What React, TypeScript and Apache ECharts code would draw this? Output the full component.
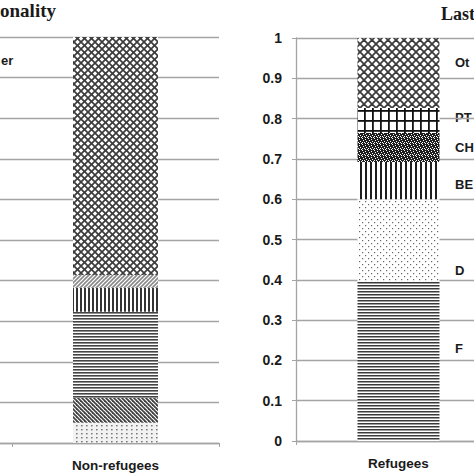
import React, { useEffect, useRef } from "react";
import * as echarts from "echarts";

// ---- data ----
const leftCategories = ["Refugees", "Non-refugees"];
const leftVisibleCategories = ["Non-refugees"];
const rightCategories = ["Refugees"];
const leftGroupNames = ["Group 1", "Group 2", "Group 3", "Group 4", "Group 5", "Other"];
const leftNonRefugeeShares = [0.05, 0.061, 0.212, 0.059, 0.032, 0.586];
const rightGroupNames = ["FR", "DE", "BE", "CH", "PT", "Other"];
const rightRefugeeShares = [0.395, 0.205, 0.092, 0.072, 0.062, 0.174];
// visible (cropped) texts of the reference
const leftTitle = "onality";
const rightTitle = "Last";
const leftEdgeLabel = "er";
const rightLabelTexts = ["Ot", "PT", "CH", "BE", "D", "F"];

const OFFSET = 220; // canvas is shifted left so panels extend beyond the view
const W = 474 + OFFSET + 60;

type Draw = (g: CanvasRenderingContext2D, w: number, h: number) => void;
function tile(w: number, h: number, draw: Draw): any {
  const c = document.createElement("canvas");
  c.width = w;
  c.height = h;
  const g = c.getContext("2d")!;
  g.fillStyle = "#ffffff";
  g.fillRect(0, 0, w, h);
  draw(g, w, h);
  return { image: c, repeat: "repeat", imageWidth: w, imageHeight: h };
}

function diagLines(g: CanvasRenderingContext2D, w: number, h: number, dir: 1 | -1, lw: number, col: string) {
  g.strokeStyle = col;
  g.lineWidth = lw;
  for (let k = -1; k <= 1; k++) {
    g.beginPath();
    if (dir === 1) {
      g.moveTo(k * w - 1, -1);
      g.lineTo(k * w + w + 1, h + 1);
    } else {
      g.moveTo(k * w + w + 1, -1);
      g.lineTo(k * w - 1, h + 1);
    }
    g.stroke();
  }
}

function makePatterns() {
  const hLines = tile(4, 3, (g) => {
    g.fillStyle = "#3a3a3a";
    g.fillRect(0, 0, 4, 1.5);
  });
  const hLinesLeft = tile(4, 3, (g) => {
    g.fillStyle = "#444";
    g.fillRect(0, 0, 4, 1.6);
  });
  const sparseDots = tile(6, 6, (g) => {
    g.fillStyle = "#666";
    g.fillRect(0, 0, 1.2, 1.2);
    g.fillRect(3, 3, 1.2, 1.2);
  });
  const vLines = tile(5, 4, (g) => {
    g.fillStyle = "#1e1e1e";
    g.fillRect(0, 0, 2, 4);
  });
  const vLinesLeft = tile(4, 4, (g) => {
    g.fillStyle = "#333";
    g.fillRect(0, 0, 2, 4);
  });
  const denseDots = tile(6, 6, (g) => {
    g.fillStyle = "#1e1e1e";
    g.fillRect(0, 0, 6, 6);
    g.fillStyle = "#fff";
    const specks = [
      [0, 0], [3, 1], [1, 2], [4, 3], [2, 4], [5, 5], [0, 4], [3, 5],
    ];
    specks.forEach(([x, y]) => g.fillRect(x, y, 1, 1));
  });
  const grid = tile(8, 10, (g) => {
    g.fillStyle = "#111";
    g.fillRect(0, 0, 1.8, 10);
    g.fillRect(0, 0, 8, 1.8);
  });
  const cross = tile(8, 8, (g, w, h) => {
    diagLines(g, w, h, 1, 1.8, "#3c3c3c");
    diagLines(g, w, h, -1, 1.8, "#3c3c3c");
  });
  const crossLeft = tile(7, 7, (g, w, h) => {
    diagLines(g, w, h, 1, 1.7, "#3c3c3c");
    diagLines(g, w, h, -1, 1.7, "#3c3c3c");
  });
  const dotGrid = tile(5, 4, (g) => {
    g.fillStyle = "#f2f2f2";
    g.fillRect(0, 0, 5, 4);
    g.fillStyle = "#777";
    g.fillRect(1, 1, 1.6, 1.4);
  });
  const backDiag = tile(4, 4, (g, w, h) => diagLines(g, w, h, 1, 1.8, "#444"));
  const fwdDiagLight = tile(4, 4, (g, w, h) => diagLines(g, w, h, -1, 1.6, "#8a8a8a"));
  return {
    left: [dotGrid, backDiag, hLinesLeft, vLinesLeft, fwdDiagLight, crossLeft],
    right: [hLines, sparseDots, vLines, denseDots, grid, cross],
  };
}

const FONT = "'Liberation Sans', Arial, sans-serif";
const SERIF = "'Liberation Serif', 'Times New Roman', serif";
const GRID_COLOR = "#a4a4a4";
const TEXT_COLOR = "#1a1a1a";

export default function App() {
  const ref = useRef<HTMLDivElement>(null);
  useEffect(() => {
    if (!ref.current) return;
    const chart = echarts.init(ref.current, null, { renderer: "svg" });
    const pats = makePatterns();

    const leftSeries = leftGroupNames.map((name, i) => ({
      name,
      type: "bar",
      xAxisIndex: 0,
      yAxisIndex: 0,
      stack: "left",
      barWidth: 85,
      itemStyle: { color: pats.left[i] },
      data: ["-", leftNonRefugeeShares[i]],
    }));
    const rightSeries = rightGroupNames.map((name, i) => ({
      name,
      type: "bar",
      xAxisIndex: 1,
      yAxisIndex: 1,
      stack: "right",
      barWidth: 82,
      itemStyle: { color: pats.right[i] },
      data: [rightRefugeeShares[i]],
    }));

    const rightLabelYs = [62, 117, 147, 184, 270, 348];

    const labelStyle = (text: string) => ({
      text,
      font: `bold 13px ${FONT}`,
      fill: TEXT_COLOR,
      backgroundColor: "#fff",
      padding: [2, 4],
      verticalAlign: "middle",
    });

    const graphic: any[] = [
      {
        type: "text",
        x: OFFSET + 56,
        y: 10,
        style: { text: leftTitle, font: `bold 19px ${SERIF}`, fill: TEXT_COLOR, align: "right", verticalAlign: "middle" },
      },
      {
        type: "text",
        x: OFFSET + 441,
        y: 14,
        style: { text: rightTitle, font: `bold 18px ${SERIF}`, fill: TEXT_COLOR, align: "left", verticalAlign: "middle" },
      },
      { type: "rect", shape: { x: OFFSET - 10, y: 52, width: 20, height: 16 }, style: { fill: "#fff" } },
      {
        type: "text",
        x: OFFSET + 1,
        y: 60,
        style: { text: leftEdgeLabel, font: `bold 13px ${FONT}`, fill: TEXT_COLOR, align: "left", verticalAlign: "middle" },
      },
      { type: "rect", shape: { x: OFFSET - 10, y: 110, width: 23, height: 14 }, style: { fill: "#fff" } },
      { type: "rect", shape: { x: OFFSET - 10, y: 150, width: 26, height: 14 }, style: { fill: "#fff" } },
      ...rightLabelTexts.map((t, i) => ({
        type: "text",
        x: OFFSET + 451,
        y: rightLabelYs[i],
        style: { ...labelStyle(t), align: "left" },
      })),
    ];

    chart.setOption({
      animation: false,
      backgroundColor: "#ffffff",
      grid: [
        { left: OFFSET - 195, top: 37, width: 414, height: 406, containLabel: false },
        { left: OFFSET + 296, top: 38, width: 205, height: 403, containLabel: false },
      ],
      xAxis: [
        {
          type: "category",
          gridIndex: 0,
          data: leftCategories,
          axisLine: { lineStyle: { color: GRID_COLOR, width: 1.3 } },
          axisTick: { show: true, length: 4, lineStyle: { color: GRID_COLOR } },
          axisLabel: {
            color: TEXT_COLOR,
            fontFamily: FONT,
            fontWeight: "bold",
            fontSize: 13.5,
            margin: 15,
            formatter: (v: string) => (leftVisibleCategories.includes(v) ? v : ""),
          },
        },
        {
          type: "category",
          gridIndex: 1,
          data: rightCategories,
          axisLine: { lineStyle: { color: GRID_COLOR, width: 1.3 } },
          axisTick: { show: true, length: 4, lineStyle: { color: GRID_COLOR } },
          axisLabel: { color: TEXT_COLOR, fontFamily: FONT, fontWeight: "bold", fontSize: 13.5, margin: 15 },
        },
      ],
      yAxis: [
        {
          type: "value",
          gridIndex: 0,
          min: 0,
          max: 1,
          interval: 0.1,
          axisLine: { show: false },
          axisTick: { show: false },
          axisLabel: { show: false },
          splitLine: { show: true, lineStyle: { color: GRID_COLOR, width: 1.3 } },
        },
        {
          type: "value",
          gridIndex: 1,
          min: 0,
          max: 1,
          interval: 0.1,
          axisLine: { show: true, lineStyle: { color: GRID_COLOR, width: 1.3 } },
          axisTick: { show: true, length: 4, lineStyle: { color: GRID_COLOR } },
          axisLabel: {
            color: TEXT_COLOR,
            fontFamily: FONT,
            fontWeight: "bold",
            fontSize: 14,
            margin: 14,
            formatter: (v: number) => String(Math.round(v * 10) / 10),
          },
          splitLine: { show: true, lineStyle: { color: GRID_COLOR, width: 1.3 } },
        },
      ],
      series: [...leftSeries, ...rightSeries],
      graphic,
    });
    return () => chart.dispose();
  }, []);

  return (
    <div style={{ position: "absolute", left: 0, top: 0, width: 474, height: 474, overflow: "hidden", background: "#fff" }}>
      <div ref={ref} style={{ position: "absolute", left: -OFFSET, top: 0, width: W, height: 474 }} />
    </div>
  );
}
